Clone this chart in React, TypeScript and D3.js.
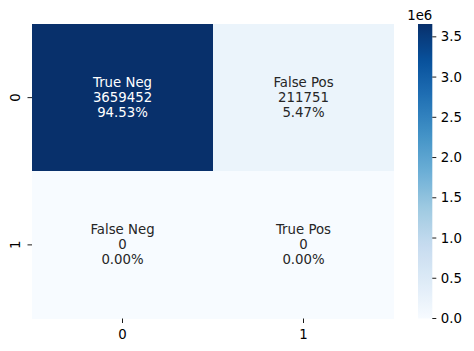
import React from "react";
import * as d3 from "d3";

const rowLabels = ["0", "1"];
const colLabels = ["0", "1"];
const cellNames = [
  ["True Neg", "False Pos"],
  ["False Neg", "True Pos"],
];
const cellValues = [
  [3659452, 211751],
  [0, 0],
];
const colorbarTicks = [0, 0.5, 1.0, 1.5, 2.0, 2.5, 3.0, 3.5];
const bluesStops = ["#f7fbff", "#deebf7", "#c6dbef", "#9ecae1", "#6baed6", "#4292c6", "#2171b5", "#08519c", "#08306b"];

const W = 474;
const H = 351;
const left = 32, right = 394, top = 24, bottom = 318.5;
const cbLeft = 418, cbRight = 432.3;
const FONT = "DejaVu Sans, sans-serif";
const FS = 13.3;

export default function App() {
  const flat = cellValues.flat();
  const total = d3.sum(flat);
  const vmax = d3.max(flat) as number;
  const vmin = d3.min(flat) as number;

  const x = d3.scaleBand<string>().domain(colLabels).range([left, right]).padding(0);
  const y = d3.scaleBand<string>().domain(rowLabels).range([top, bottom]).padding(0);

  const blues = d3
    .scaleLinear<string>()
    .domain(bluesStops.map((_, i) => i / (bluesStops.length - 1)))
    .range(bluesStops)
    .interpolate(d3.interpolateRgb)
    .clamp(true);
  const color = (v: number) => blues((v - vmin) / (vmax - vmin));

  const cbScale = d3.scaleLinear().domain([vmin / 1e6, vmax / 1e6]).range([bottom, top]);
  const gradStops = d3.range(0, 1.0001, 0.02);

  return (
    <svg width={W} height={H} style={{ position: "absolute", left: 0, top: 0, background: "#fff" }}>
      <defs>
        <linearGradient id="cbgrad" x1="0" y1="1" x2="0" y2="0">
          {gradStops.map((t) => (
            <stop key={t} offset={`${t * 100}%`} stopColor={blues(t)} />
          ))}
        </linearGradient>
      </defs>
      {rowLabels.map((r, i) =>
        colLabels.map((c, j) => {
          const v = cellValues[i][j];
          const t = (v - vmin) / (vmax - vmin);
          const txtColor = t > 0.5 ? "#ffffff" : "#262626";
          const cx = (x(c) as number) + x.bandwidth() / 2;
          const cy = (y(r) as number) + y.bandwidth() / 2;
          const lines = [cellNames[i][j], `${v}`, `${((v / total) * 100).toFixed(2)}%`];
          return (
            <g key={`${i}-${j}`}>
              <rect
                x={x(c)}
                y={y(r)}
                width={x.bandwidth()}
                height={y.bandwidth()}
                fill={color(v)}
                shapeRendering="crispEdges"
              />
              {lines.map((ln, k) => (
                <text
                  key={k}
                  x={cx}
                  y={cy + (k - 1) * 15}
                  textAnchor="middle"
                  dominantBaseline="central"
                  fontFamily={FONT}
                  fontSize={FS}
                  fill={txtColor}
                >
                  {ln}
                </text>
              ))}
            </g>
          );
        })
      )}
      {rowLabels.map((r) => {
        const cy = (y(r) as number) + y.bandwidth() / 2;
        return (
          <g key={`yt${r}`}>
            <line x1={left - 4.5} x2={left} y1={cy} y2={cy} stroke="#000" strokeWidth={0.9} />
            <text
              transform={`translate(${left - 17},${cy}) rotate(-90)`}
              textAnchor="middle"
              dominantBaseline="central"
              fontFamily={FONT}
              fontSize={FS}
              fill="#000"
            >
              {r}
            </text>
          </g>
        );
      })}
      {colLabels.map((c) => {
        const cx = (x(c) as number) + x.bandwidth() / 2;
        return (
          <g key={`xt${c}`}>
            <line x1={cx} x2={cx} y1={bottom} y2={bottom + 4.5} stroke="#000" strokeWidth={0.9} />
            <text
              x={cx}
              y={bottom + 16}
              textAnchor="middle"
              dominantBaseline="central"
              fontFamily={FONT}
              fontSize={FS}
              fill="#000"
            >
              {c}
            </text>
          </g>
        );
      })}
      <rect x={cbLeft} y={top} width={cbRight - cbLeft} height={bottom - top} fill="url(#cbgrad)" />
      {colorbarTicks.map((t) => {
        const ty = cbScale(t);
        return (
          <g key={`cb${t}`}>
            <line x1={cbRight} x2={cbRight + 4} y1={ty} y2={ty} stroke="#000" strokeWidth={0.9} />
            <text
              x={cbRight + 8.5}
              y={ty}
              dominantBaseline="central"
              fontFamily={FONT}
              fontSize={FS}
              fill="#000"
            >
              {t.toFixed(1)}
            </text>
          </g>
        );
      })}
      <text x={cbRight} y={19.5} textAnchor="end" fontFamily={FONT} fontSize={FS} fill="#000">
        1e6
      </text>
    </svg>
  );
}
